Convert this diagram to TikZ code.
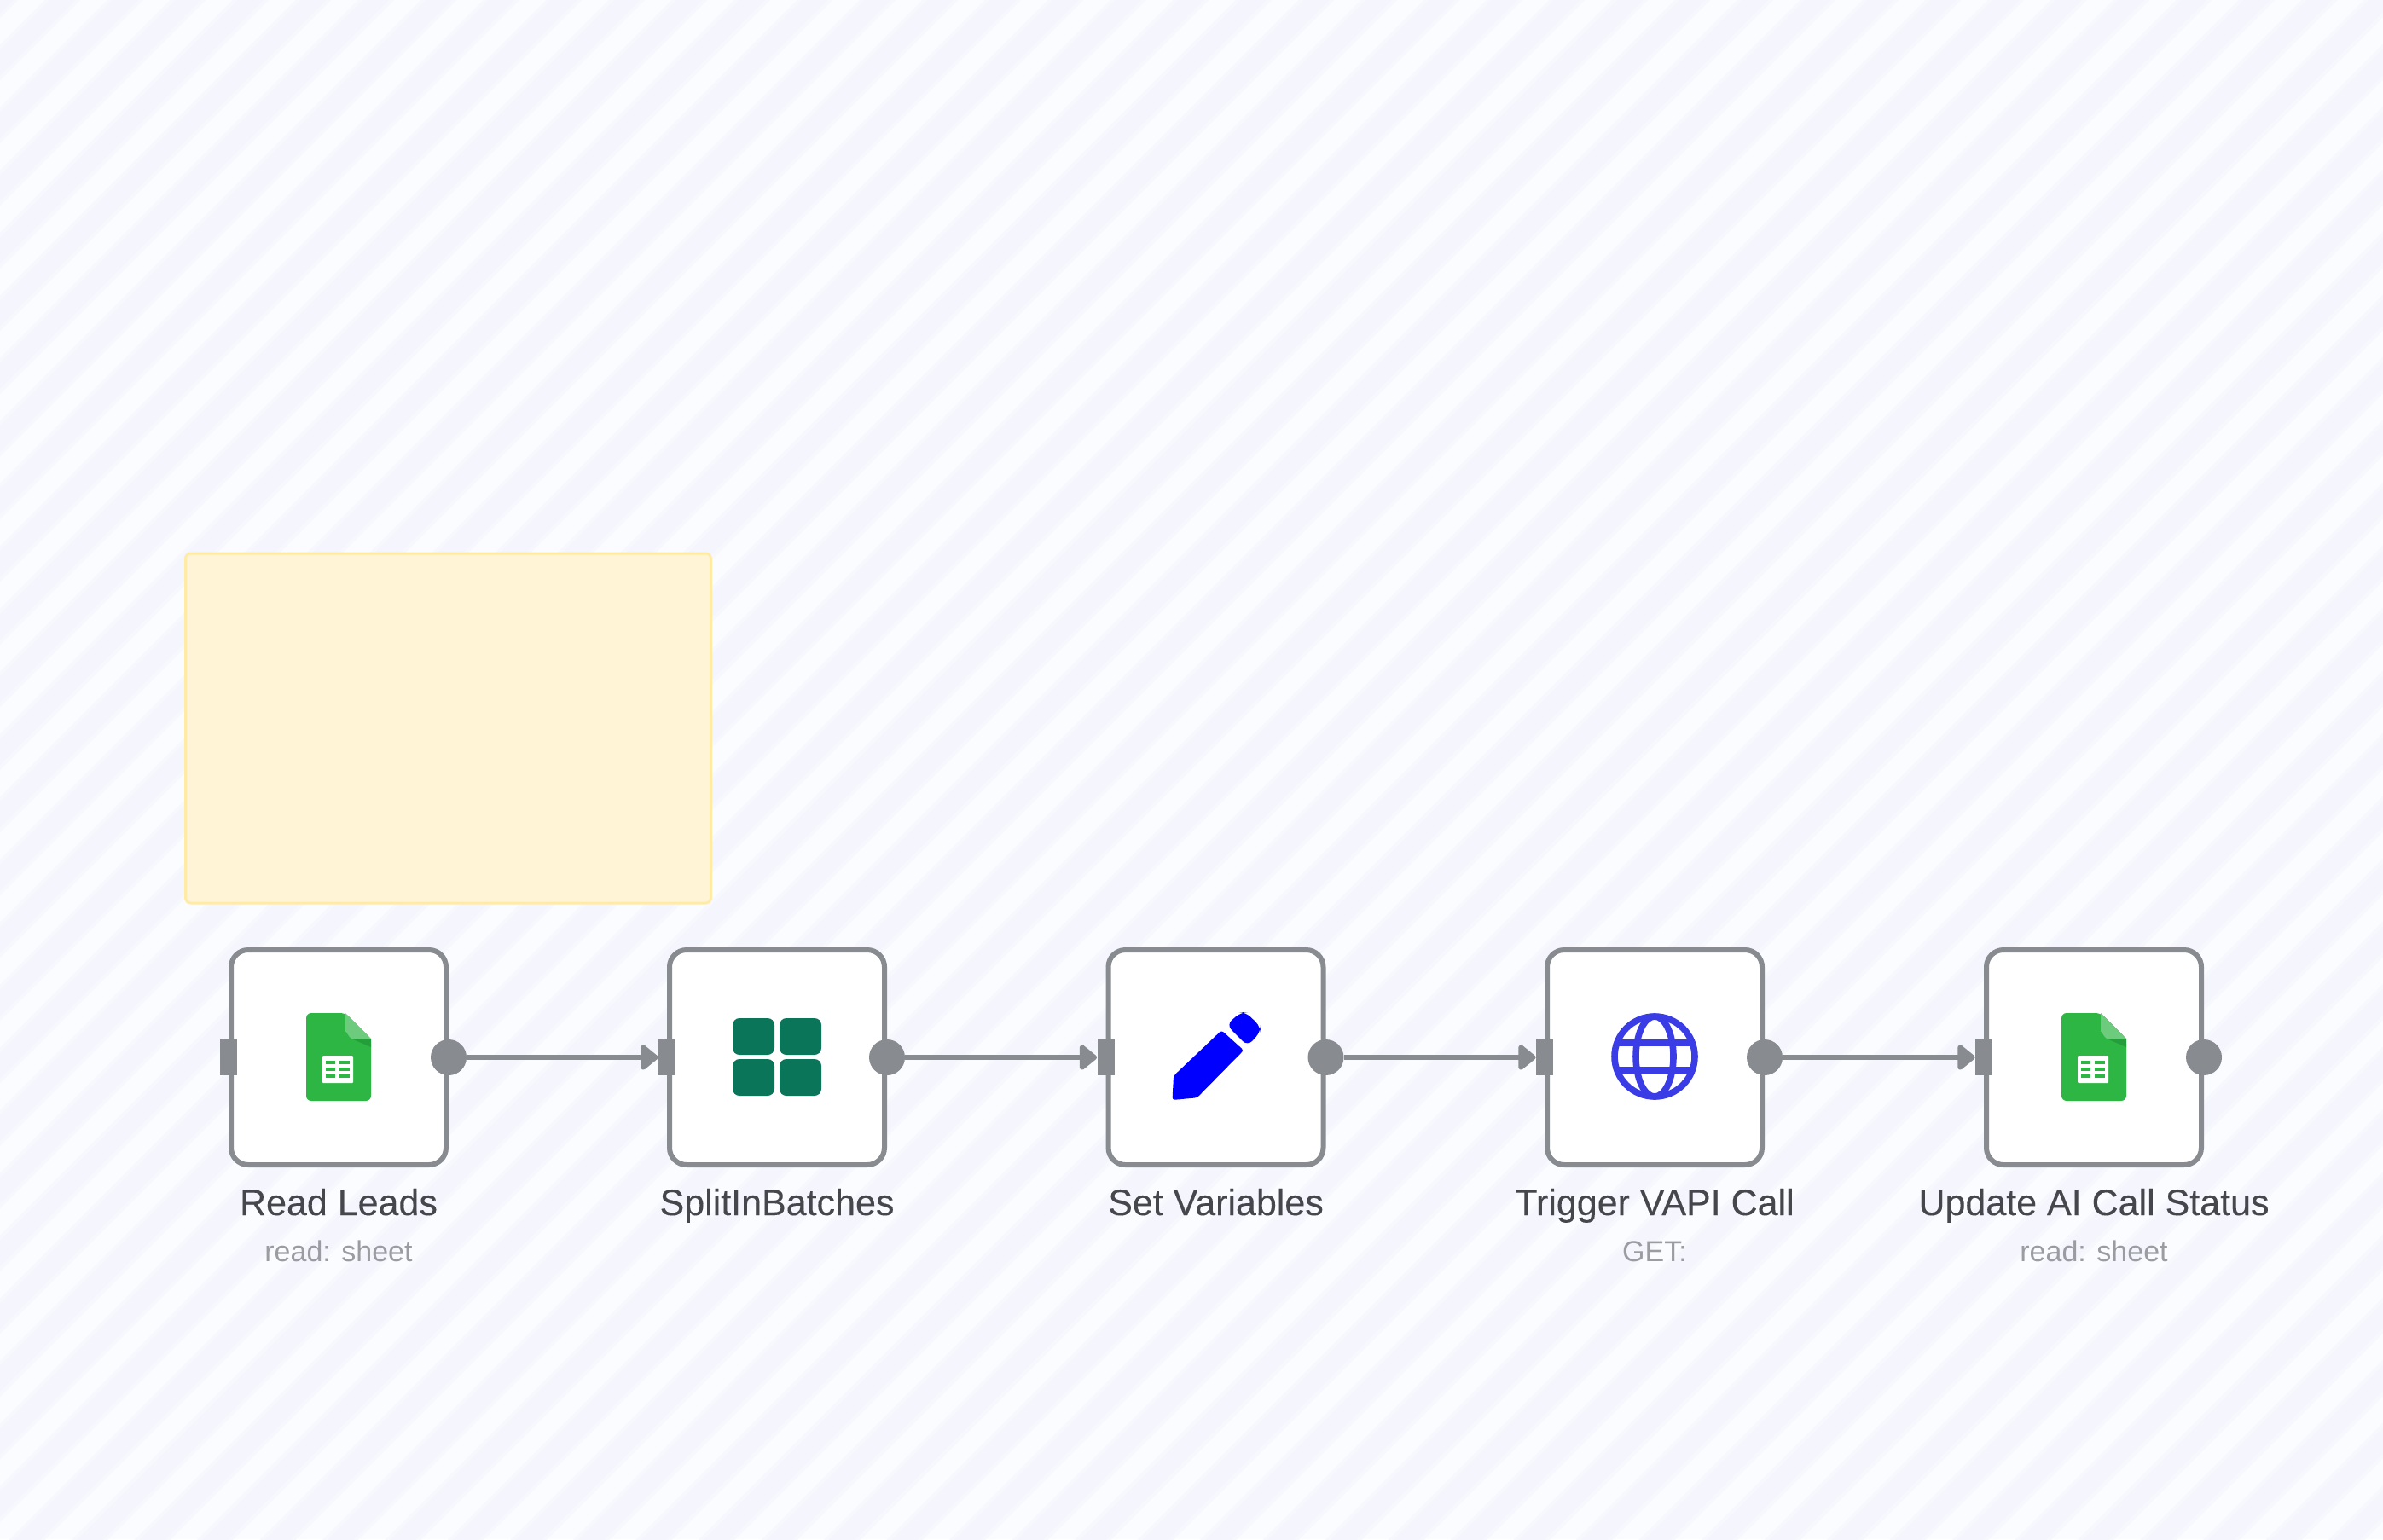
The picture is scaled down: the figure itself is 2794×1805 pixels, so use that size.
\documentclass[tikz,border=0pt]{standalone}
\usepackage{fontspec}
\setmainfont{Liberation Sans}
\newfontfamily\titlefont[FakeBold=0.12]{Liberation Sans}
\usetikzlibrary{arrows.meta}
\definecolor{bgA}{HTML}{FBFCFF}
\definecolor{bgB}{HTML}{F4F5FD}
\definecolor{edgeC}{HTML}{888B8F}
\definecolor{noteF}{HTML}{FFF4D6}
\definecolor{noteB}{HTML}{FFEBA6}
\definecolor{titleC}{HTML}{45474D}
\definecolor{subC}{HTML}{9A9CA2}
\definecolor{sheetG}{HTML}{2DB644}
\definecolor{sheetL}{HTML}{6CCB7C}
\definecolor{sheetD}{HTML}{249E3A}
\definecolor{gridG}{HTML}{0A7558}
\definecolor{penB}{HTML}{0000FF}
\definecolor{globeB}{HTML}{3A3DE6}
\tikzset{
  x=0.5pt,y=-0.5pt,
  nodebox/.style={draw=edgeC,line width=3pt,fill=white,rounded corners=10pt,minimum width=126pt,minimum height=126pt,inner sep=0pt},
  inport/.style={fill=edgeC,draw=none,minimum width=10pt,minimum height=21pt,inner sep=0pt},
  outport/.style={circle,fill=edgeC,draw=none,minimum size=21pt,inner sep=0pt},
  conn/.style={draw=edgeC,line width=3pt,-{Triangle[length=11pt,width=17pt,round]}},
  title/.style={text=titleC,font=\titlefont\fontsize{21.5}{25}\selectfont,anchor=base,inner sep=0pt},
  subtitle/.style={text=subC,font=\fontsize{17}{20}\selectfont,anchor=base,inner sep=0pt},
  note/.style={draw=noteB,line width=1.5pt,fill=noteF,rounded corners=3pt,inner sep=0pt,minimum width=308pt,minimum height=205pt}
}
\newcommand{\sheeticon}[2]{%
  \begin{scope}[shift={(#1,#2)}]
    \fill[sheetG,rounded corners=3pt] (-38,-51) -- (8,-51) -- (38,-21) -- (38,52) -- (-38,52) -- cycle;
    \fill[sheetD] (15,-21) -- (38,-21) -- (38,-11) -- cycle;
    \fill[sheetL] (8,-51) -- (38,-21) -- (16,-21) to[out=180,in=90] (8,-29) -- cycle;
    \fill[white,rounded corners=.5pt] (-19,-1) rectangle (17,31);
    \foreach \yy in {5,13,21}{
      \fill[sheetG] (-15,\yy) rectangle (-4,\yy+3.6);
      \fill[sheetG] (1,\yy) rectangle (13,\yy+3.6);
    }
  \end{scope}}
\newcommand{\gridicon}[2]{%
  \begin{scope}[shift={(#1,#2)}]
    \fill[gridG,rounded corners=4pt] (-52,-45.5) rectangle (-3,-2.5);
    \fill[gridG,rounded corners=4pt] (3,-45.5) rectangle (52,-2.5);
    \fill[gridG,rounded corners=4pt] (-52,2.5) rectangle (-3,45.5);
    \fill[gridG,rounded corners=4pt] (3,2.5) rectangle (52,45.5);
  \end{scope}}
\newcommand{\penicon}[2]{%
  \begin{scope}[shift={(#1,#2)}]
    \fill[penB,rounded corners=1.5pt] (-51,51) -- (-49.5,22.7) -- (6.7,-30.7) -- (32.7,-7.3) -- (-22,48.3) -- cycle;
    \fill[penB,rounded corners=4pt] (12.5,-37.3) -- (29.5,-52) -- (35,-52) -- (52.5,-35) -- (52.5,-29) -- (37.3,-12.3) -- cycle;
  \end{scope}}
\newcommand{\globeicon}[2]{%
  \begin{scope}[shift={(#1,#2)}]
    \draw[globeB,line width=3.8pt] (0,0) circle[radius=47];
    \draw[globeB,line width=3.8pt] (0,0) ellipse[x radius=22,y radius=47];
    \draw[globeB,line width=3.8pt] (-42,-16) -- (42,-16) (-42,16) -- (42,16);
  \end{scope}}
\begin{document}
\begin{tikzpicture}
\useasboundingbox (0,0) rectangle (2794,1805);
\fill[bgA] (0,0) rectangle (2794,1805);
\begin{scope}
  \clip (0,0) rectangle (2794,1805);
  \foreach \k in {-1,...,64}{
    \pgfmathsetmacro{\xa}{\k*73.5+60}
    \draw[bgB!55!bgA,line width=15pt] (\xa,-60) -- ++(-2000,2000);
    \draw[bgB,line width=10.5pt] (\xa,-60) -- ++(-2000,2000);
  }
\end{scope}
\node[note] (stickynote) at (525.5,854) {};
\foreach \nm/\cx in {a/397,b/911,c/1425.5,d/1940,e/2455}{
  \node[nodebox] (\nm) at (\cx,1240) {};
  \node[inport] (\nm-in) at (\nm.west) {};
  \node[outport] (\nm-out) at (\nm.east) {};
}
\sheeticon{397}{1239}
\gridicon{911}{1239.5}
\penicon{1425.5}{1239}
\globeicon{1940}{1239}
\sheeticon{2455}{1239}
\draw[conn] (a-out) -- (b-in);
\draw[conn] (b-out) -- (c-in);
\draw[conn] (c-out) -- (d-in);
\draw[conn] (d-out) -- (e-in);
\node[title] (ta) at (397,1425) {Read Leads};
\node[title] (tb) at (911,1425) {SplitInBatches};
\node[title] (tc) at (1425.5,1425) {Set Variables};
\node[title] (td) at (1940,1425) {Trigger VAPI Call};
\node[title] (te) at (2455,1425) {Update AI Call Status};
\node[subtitle] (sa) at (397,1479) {read: sheet};
\node[subtitle] (sd) at (1940,1479) {GET:};
\node[subtitle] (se) at (2455,1479) {read: sheet};
\end{tikzpicture}
\end{document}
